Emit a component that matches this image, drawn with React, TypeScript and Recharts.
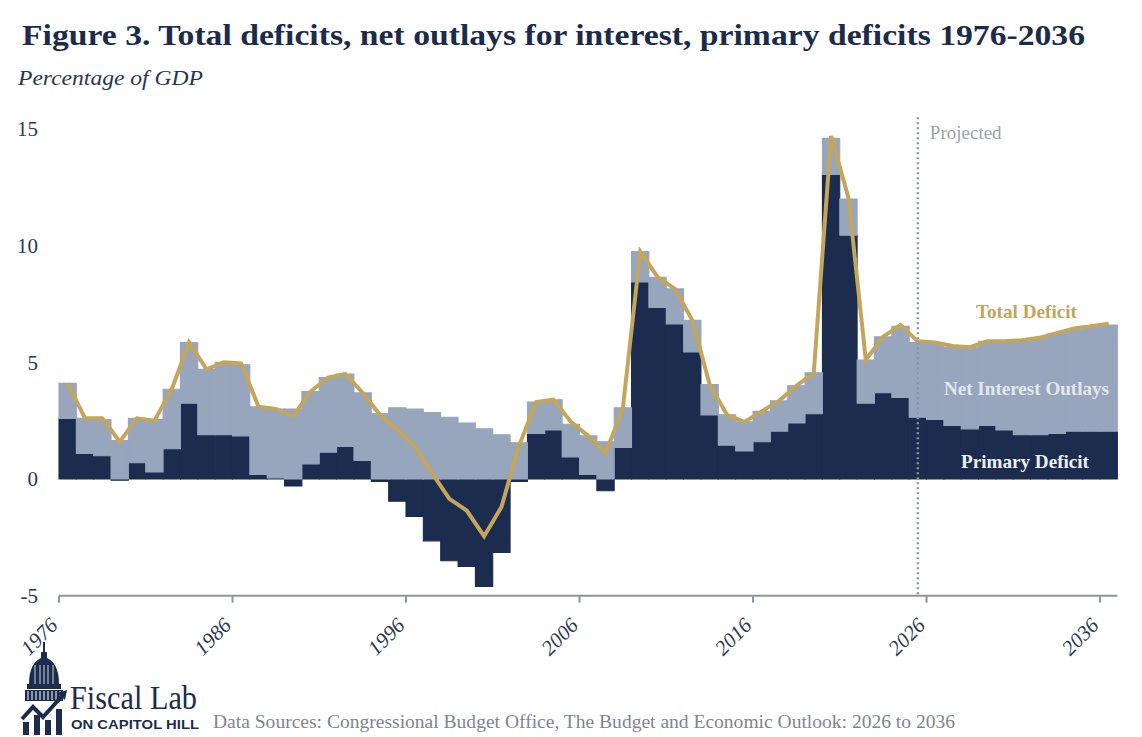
import { Bar, ComposedChart, Line, ReferenceLine, XAxis, YAxis } from 'recharts'

// Percentage of GDP, fiscal years 1976-2036 (2026 onward projected)
const FIRST_YEAR = 1976

const PRIMARY = [
  2.6, 1.1, 1.0, -0.05, 0.7, 0.3, 1.3, 3.25, 1.9, 1.9,
  1.85, 0.2, 0.05, -0.3, 0.65, 1.15, 1.4, 0.8, -0.1, -0.95,
  -1.6, -2.65, -3.5, -3.75, -4.6, -3.15, -0.1, 1.95, 2.1, 0.95,
  0.2, -0.5, 1.35, 8.45, 7.35, 6.65, 5.45, 2.75, 1.45, 1.2,
  1.6, 2.05, 2.4, 2.8, 13.05, 10.45, 3.25, 3.7, 3.5, 2.65,
  2.55, 2.3, 2.15, 2.3, 2.1, 1.9, 1.9, 1.95, 2.05, 2.05,
  2.05,
]

const INTEREST = [
  1.5, 1.5, 1.55, 1.65, 1.9, 2.25, 2.55, 2.6, 2.8, 3.1,
  3.05, 2.9, 2.95, 3.0, 3.1, 3.2, 3.1, 2.9, 2.8, 3.05,
  3.0, 2.85, 2.65, 2.4, 2.15, 1.9, 1.55, 1.35, 1.3, 1.4,
  1.65, 1.6, 1.7, 1.3, 1.3, 1.5, 1.35, 1.3, 1.3, 1.25,
  1.3, 1.3, 1.6, 1.75, 1.55, 1.55, 1.85, 2.4, 3.05, 3.2,
  3.25, 3.35, 3.5, 3.6, 3.8, 4.05, 4.15, 4.3, 4.35, 4.45,
  4.55,
]

const TOTAL = [
  4.1, 2.6, 2.6, 1.6, 2.6, 2.5, 3.85, 5.85, 4.7, 5.0,
  4.95, 3.1, 3.0, 2.7, 3.75, 4.35, 4.5, 3.7, 2.75, 2.1,
  1.4, 0.25, -0.85, -1.35, -2.45, -1.2, 1.4, 3.3, 3.4, 2.45,
  1.85, 1.1, 3.05, 9.75, 8.65, 8.15, 6.8, 4.05, 2.75, 2.45,
  2.9, 3.35, 4.0, 4.55, 14.7, 12.05, 5.1, 6.1, 6.6, 5.9,
  5.85, 5.7, 5.65, 5.9, 5.9, 5.95, 6.05, 6.25, 6.45, 6.55,
  6.65,
]

const YEAR_TICKS = [1976, 1986, 1996, 2006, 2016, 2026, 2036]
const VALUE_TICKS = [-5, 0, 5, 10, 15]
const PROJECTION_START = 2025.5

const YEARS = PRIMARY.map((_, i) => FIRST_YEAR + i)

const data = YEARS.map((year, i) => ({
  year,
  mid: year + 0.5,
  primary: PRIMARY[i],
  interest: INTEREST[i],
  total: TOTAL[i],
}))

const NAVY = '#1b2c4e'
const SLATE = '#97a6bd'
const GOLD = '#c3a55b'
const AXIS = '#8c95a6'
const SERIF = '"Liberation Serif", "Times New Roman", serif'

const W = 1142
const H = 737
const MARGIN = { top: 129, right: 24.6, bottom: 81.3, left: 0 }
const Y_AXIS_W = 59
const BAR_W = 17.3

function YearTick({ x, y, payload }: any) {
  return (
    <g transform={`translate(${x},${y + 22})`}>
      <text
        transform="rotate(-45)"
        textAnchor="end"
        fontFamily={SERIF}
        fontStyle="italic"
        fontSize={21}
        fill="#2b3754"
      >
        {payload.value}
      </text>
    </g>
  )
}

function ProjectedLabel({ viewBox }: any) {
  return (
    <text x={viewBox.x + 12} y={viewBox.y + 22} fontFamily={SERIF} fontSize={19} fill="#9aa1ad">
      Projected
    </text>
  )
}

function Logo() {
  return (
    <g>
      {/* capitol dome */}
      <line x1={44} y1={642} x2={44} y2={654} stroke={NAVY} strokeWidth={2} />
      <rect x={41} y={652} width={6} height={7} fill={NAVY} />
      <path d="M29 684 Q29 661 44 657 Q59 661 59 684 Z" fill={NAVY} />
      {[35, 40, 44, 48, 53].map((rx) => (
        <line key={rx} x1={rx} y1={665} x2={rx} y2={684} stroke="#fff" strokeWidth={0.8} />
      ))}
      <rect x={27} y={684} width={34} height={5} fill={NAVY} />
      <rect x={25} y={690} width={38} height={11} fill={NAVY} />
      {[28, 32, 36, 40, 44, 48, 52, 56, 60].map((cx) => (
        <line key={cx} x1={cx} y1={691} x2={cx} y2={700} stroke="#fff" strokeWidth={1} />
      ))}
      {/* rising chart */}
      <polyline points="22,719 33,707 43,717 63,695" fill="none" stroke={NAVY} strokeWidth={4} />
      <path d="M57 693 L67 690 L65 700 Z" fill={NAVY} />
      <rect x={23} y={722} width={6} height={13} fill={NAVY} />
      <rect x={34} y={715} width={6} height={20} fill={NAVY} />
      <rect x={45} y={720} width={6} height={15} fill={NAVY} />
      <rect x={56} y={709} width={6} height={26} fill={NAVY} />
      <text x={70} y={709} fontFamily={SERIF} fontSize={34} fill={NAVY} textLength={127} lengthAdjust="spacingAndGlyphs">
        Fiscal Lab
      </text>
      <text
        x={71}
        y={729}
        fontFamily='"Liberation Sans", Arial, sans-serif'
        fontWeight="bold"
        fontSize={12.5}
        fill={NAVY}
        textLength={128}
        lengthAdjust="spacingAndGlyphs"
      >
        ON CAPITOL HILL
      </text>
    </g>
  )
}

export default function App() {
  return (
    <div style={{ position: 'absolute', left: 0, top: 0, width: W, height: H, background: '#fff' }}>
      <ComposedChart
        width={W}
        height={H}
        data={data}
        margin={MARGIN}
        stackOffset="sign"
        barCategoryGap={0}
        barGap={0}
      >
        <XAxis
          type="number"
          dataKey="mid"
          domain={[1976, 2037]}
          ticks={YEAR_TICKS}
          interval={0}
          height={60}
          axisLine={{ stroke: AXIS, strokeWidth: 2 }}
          tickLine={{ stroke: AXIS, strokeWidth: 2 }}
          tickSize={7}
          tick={<YearTick />}
        />
        <YAxis
          type="number"
          domain={[-5, 15]}
          ticks={VALUE_TICKS}
          width={Y_AXIS_W}
          axisLine={false}
          tickLine={false}
          tickMargin={15}
          tick={{ fill: '#2b3754', fontSize: 21, fontFamily: SERIF }}
        />
        <Bar dataKey="primary" stackId="deficit" fill={NAVY} stroke={NAVY} strokeWidth={1.1} barSize={BAR_W} isAnimationActive={false} />
        <Bar dataKey="interest" stackId="deficit" fill={SLATE} stroke={SLATE} strokeWidth={1.1} barSize={BAR_W} isAnimationActive={false} />
        <ReferenceLine
          segment={[
            { x: PROJECTION_START, y: 15.5 },
            { x: PROJECTION_START, y: -5 },
          ]}
          ifOverflow="visible"
          stroke="#8a93a3"
          strokeWidth={2.4}
          strokeDasharray="2 3"
          label={<ProjectedLabel />}
        />
        <Line
          type="linear"
          dataKey="total"
          stroke={GOLD}
          strokeWidth={4}
          dot={false}
          activeDot={false}
          isAnimationActive={false}
        />
      </ComposedChart>

      <svg width={W} height={H} style={{ position: 'absolute', left: 0, top: 0, pointerEvents: 'none' }}>
        <text x={22} y={45} fontFamily={SERIF} fontWeight="bold" fontSize={30} fill="#1d2b4b" textLength={1063} lengthAdjust="spacingAndGlyphs">
          Figure 3. Total deficits, net outlays for interest, primary deficits 1976-2036
        </text>
        <text x={18} y={85} fontFamily={SERIF} fontStyle="italic" fontSize={20} fill="#2b3550" textLength={185} lengthAdjust="spacingAndGlyphs">
          Percentage of GDP
        </text>

        <text x={976} y={318} fontFamily={SERIF} fontWeight="bold" fontSize={19} fill={GOLD} textLength={101} lengthAdjust="spacingAndGlyphs">
          Total Deficit
        </text>
        <text x={944} y={395} fontFamily={SERIF} fontWeight="bold" fontSize={19} fill="#e3e7ee" textLength={165} lengthAdjust="spacingAndGlyphs">
          Net Interest Outlays
        </text>
        <text x={961} y={468} fontFamily={SERIF} fontWeight="bold" fontSize={19} fill="#eceff4" textLength={128} lengthAdjust="spacingAndGlyphs">
          Primary Deficit
        </text>

        <Logo />
        <text x={213} y={728} fontFamily={SERIF} fontSize={18} fill="#7d8594" textLength={742} lengthAdjust="spacingAndGlyphs">
          Data Sources: Congressional Budget Office, The Budget and Economic Outlook: 2026 to 2036
        </text>
      </svg>
    </div>
  )
}
